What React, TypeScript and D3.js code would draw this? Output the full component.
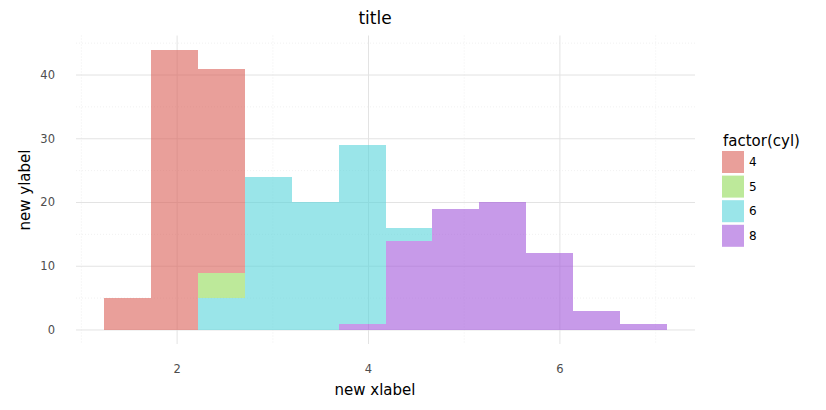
import React from "react";
import * as d3 from "d3";

const binEdges = [1.2375, 1.7275, 2.2175, 2.7075, 3.1975, 3.6875, 4.1775, 4.6675, 5.1575, 5.6475, 6.1375, 6.6275, 7.1175];
const groups = ["4", "5", "6", "8"];
const counts4 = [5, 44, 32, 0, 0, 0, 0, 0, 0, 0, 0, 0];
const counts5 = [0, 0, 4, 0, 0, 0, 0, 0, 0, 0, 0, 0];
const counts6 = [0, 0, 5, 24, 20, 28, 2, 0, 0, 0, 0, 0];
const counts8 = [0, 0, 0, 0, 0, 1, 14, 19, 20, 12, 3, 1];
const colors = ["#db5f57", "#91db57", "#57d3db", "#a157db"];
const xTicks = [2, 4, 6];
const xMinor = [1, 3, 5, 7];
const yTicks = [0, 10, 20, 30, 40];
const yMinor = [5, 15, 25, 35, 45];

const W = 826;
const H = 410;
const FONT = "DejaVu Sans";

export default function App() {
  const left = 76, right = 695, top = 35.5, bottom = 344;
  const span = binEdges[binEdges.length - 1] - binEdges[0];
  const x = d3.scaleLinear()
    .domain([binEdges[0] - span * 0.05, binEdges[binEdges.length - 1] + span * 0.05])
    .range([left, right]);
  const maxTotal = d3.max(binEdges.slice(1).map((_, i) => counts4[i] + counts5[i] + counts6[i] + counts8[i])) as number;
  const y = d3.scaleLinear()
    .domain([-maxTotal * 0.05, maxTotal * 1.05])
    .range([bottom, top]);

  const rows = binEdges.slice(1).map((_, i) => ({
    i,
    "4": counts4[i],
    "5": counts5[i],
    "6": counts6[i],
    "8": counts8[i],
  }));
  const stackOrder = ["8", "6", "5", "4"];
  const stacked = d3.stack<any>().keys(stackOrder)(rows);
  const color = d3.scaleOrdinal<string, string>().domain(groups).range(colors);

  return (
    <svg width={W} height={H} style={{ position: "absolute", left: 0, top: 0 }} fontFamily={FONT}>
      <rect x={0} y={0} width={W} height={H} fill="#ffffff" />
      {/* minor grid */}
      {yMinor.map((v) => (
        <line key={"ym" + v} x1={left} x2={right} y1={y(v)} y2={y(v)} stroke="#ebebeb" strokeWidth={0.7} strokeDasharray="1,2" />
      ))}
      {xMinor.map((v) => (
        <line key={"xm" + v} x1={x(v)} x2={x(v)} y1={top} y2={bottom} stroke="#ebebeb" strokeWidth={0.7} strokeDasharray="1,2" />
      ))}
      {/* major grid */}
      {yTicks.map((v) => (
        <line key={"yg" + v} x1={left} x2={right} y1={y(v)} y2={y(v)} stroke="#e3e3e3" strokeWidth={1} />
      ))}
      {xTicks.map((v) => (
        <line key={"xg" + v} x1={x(v)} x2={x(v)} y1={top} y2={bottom} stroke="#e3e3e3" strokeWidth={1} />
      ))}
      {/* bars */}
      {stacked.map((layer) => (
        <g key={layer.key} fill={color(layer.key)} fillOpacity={0.6} shapeRendering="crispEdges">
          {layer.map((d, i) =>
            d[1] - d[0] > 0 ? (
              <rect
                key={i}
                x={Math.round(x(binEdges[i]))}
                width={Math.round(x(binEdges[i + 1])) - Math.round(x(binEdges[i]))}
                y={Math.round(y(d[1]))}
                height={Math.round(y(d[0])) - Math.round(y(d[1]))}
              />
            ) : null
          )}
        </g>
      ))}
      {/* tick labels */}
      {xTicks.map((v) => (
        <text key={"xt" + v} x={x(v)} y={373} textAnchor="middle" fontSize={11.5} fill="#4d4d4d">{v}</text>
      ))}
      {yTicks.map((v) => (
        <text key={"yt" + v} x={55} y={y(v) + 4} textAnchor="end" fontSize={11.5} fill="#4d4d4d">{v}</text>
      ))}
      {/* titles */}
      <text x={375} y={24} textAnchor="middle" fontSize={17} fill="#000">title</text>
      <text x={375} y={395} textAnchor="middle" fontSize={15} fill="#000">new xlabel</text>
      <text transform={`translate(30,190) rotate(-90)`} textAnchor="middle" fontSize={15} fill="#000">new ylabel</text>
      {/* legend */}
      <text x={723} y={146} fontSize={15} fill="#000">factor(cyl)</text>
      {groups.map((g, i) => (
        <g key={"lg" + g} transform={`translate(722,${151 + i * 24.6})`}>
          <rect x={0} y={0} width={22} height={22} fill={color(g)} fillOpacity={0.6} />
          <text x={27} y={15} fontSize={12} fill="#000">{g}</text>
        </g>
      ))}
    </svg>
  );
}
